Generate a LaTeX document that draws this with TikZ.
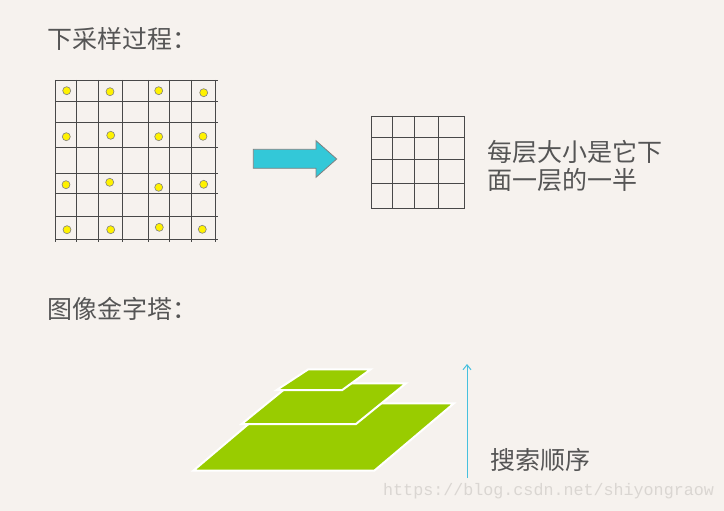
\documentclass[tikz,border=0pt]{standalone}
\usepackage{fontspec}
\usetikzlibrary{arrows.meta}
\newfontfamily\cjk{Noto Sans CJK SC}
\newfontfamily\urlfont{Liberation Mono}
\definecolor{paper}{RGB}{246,242,238}
\definecolor{inkgray}{RGB}{85,85,85}
\definecolor{linegray}{RGB}{72,72,72}
\definecolor{arrowcyan}{RGB}{51,200,216}
\definecolor{layergreen}{RGB}{153,204,0}
\definecolor{ordercyan}{RGB}{70,192,222}
\definecolor{markgray}{RGB}{218,214,210}
\tikzset{
  heading/.style={anchor=west, inner sep=0pt, text=inkgray, font=\cjk\fontsize{25}{28.5}\selectfont},
  note/.style={anchor=west, inner sep=0pt, align=left, text=inkgray, font=\cjk\fontsize{25}{28.5}\selectfont},
  gridline/.style={draw=linegray, line width=1.5pt},
  sample/.style={fill=yellow, draw=gray, line width=0.6pt},
  layer/.style={fill=layergreen, draw=white, line width=2pt, line join=miter},
}
\begin{document}
\begin{tikzpicture}[x=1pt, y=-1pt]
    \fill[paper] (0,0) rectangle (724,511);
    \useasboundingbox (0,0) rectangle (724,511);
    % titles
    \node[heading] (title-down) at (47, 39) {下采样过程：};
    \node[heading] (title-pyr) at (47, 309) {图像金字塔：};
    % big grid
    \foreach \x in {55.5, 76.5, 98.5, 122.5, 148.5, 169.5, 191.5, 215.5}
        \draw[gridline] (\x, 80) -- (\x, 241.5);
    \foreach \y in {80.5, 101.5, 122.5, 147.5, 173.5, 193.5, 216.5, 239.5}
        \draw[gridline] (55, \y) -- (217.5, \y);
    \foreach \x/\y in {66.7/90.7, 110/91.7, 158.7/90.7, 203.7/92.7,
                      66.3/136.7, 110.7/135.3, 158.7/136.7, 203/136.3,
                      66/184.7, 109.7/182.3, 158.7/187.3, 203.7/184.3,
                      67/229.7, 110.7/229.7, 159.3/227.3, 202.3/229.3}
        \draw[sample] (\x, \y) circle (4);
    % arrow
    \draw[fill=arrowcyan, draw=gray, line width=0.8pt]
        (253.3,149.3) -- (316,149.3) -- (316,140.7) -- (336.7,159)
        -- (316,177.3) -- (316,168.3) -- (253.3,168.3) -- cycle;
    % small grid
    \foreach \x in {371.5, 392.5, 414.5, 438.5, 464.5}
        \draw[gridline] (\x, 116) -- (\x, 209);
    \foreach \y in {116.5, 137.5, 159.5, 183.5, 208.5}
        \draw[gridline] (371.5, \y) -- (464.5, \y);
    \node[note] (half) at (487, 166) {每层大小是它下\\面一层的一半};
    % pyramid
    \draw[layer] (193.3,470.7) -- (374.3,470.7) -- (454,403.3) -- (273,403.3) -- cycle;
    \draw[layer] (241.7,424) -- (356,424) -- (406,383.3) -- (291.7,383.3) -- cycle;
    \draw[layer] (276.7,390) -- (342.3,390) -- (370.7,369.3) -- (308.3,369.3) -- cycle;
    \coordinate (order-start) at (467, 478);
    \coordinate (order-end) at (467, 364);
    \draw[-{Straight Barb[length=5pt, width=8pt]}, draw=ordercyan, line width=1pt] (order-start) -- (order-end);
    \node[heading] (order) at (490, 460) {搜索顺序};
    \node[anchor=west, inner sep=0pt, text=markgray, font=\urlfont\fontsize{16.7}{18}\selectfont]
        (mark) at (383, 491.5) {https://blog.csdn.net/shiyongraow};
\end{tikzpicture}
\end{document}
